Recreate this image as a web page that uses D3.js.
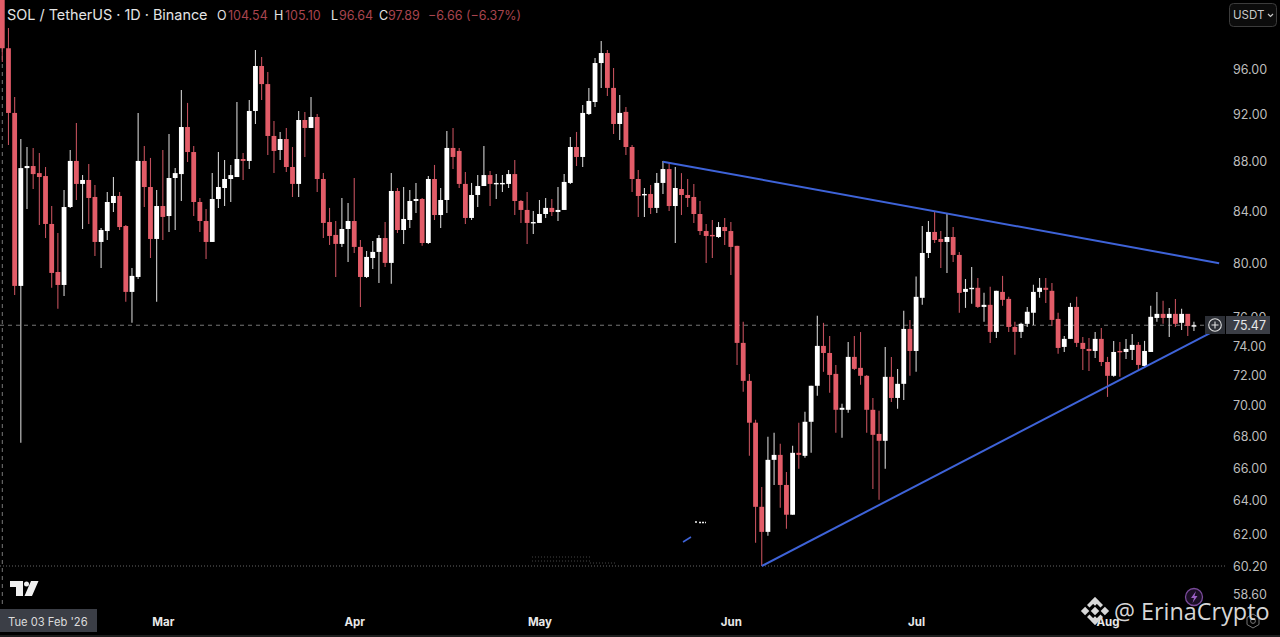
<!DOCTYPE html>
<html>
<head>
<meta charset="utf-8">
<script src="https://cdn.jsdelivr.net/npm/d3@7"></script>
<style>
  html, body { margin: 0; padding: 0; background: #000; overflow: hidden; }
  svg { display: block; }
  text { font-family: Inter, "Liberation Sans", sans-serif; }
  .axis .domain, .axis line { display: none; }
  .price-axis text { fill: #bdbdbd; font-size: 12.5px; }
  .time-axis text { fill: #e8e8e8; font-size: 11.5px; font-weight: 700; }
</style>
</head>
<body>
<svg id="chart"></svg>
<script>
var firstDay = "2026-02-03";

var opens = [104.54,97.89,92.12,78.31,87.47,87.64,87.06,86.82,83.0,79.34,
  78.38,84.33,88.06,86.18,86.5,85.13,81.61,82.45,84.65,85.21,
  82.84,77.87,78.97,88.06,85.93,81.84,84.41,83.62,86.66,86.98,
  90.91,88.8,84.73,83.23,81.61,84.97,85.85,86.58,86.74,88.22,
  88.06,92.29,96.27,94.65,90.15,88.97,89.89,87.56,86.18,91.51,
  90.83,91.77,86.58,83.15,82.15,81.46,82.61,83.23,81.23,78.97,
  80.39,80.85,81.91,80.02,85.61,82.53,83.31,84.81,84.97,81.53,
  86.58,83.7,84.89,89.14,88.89,86.18,83.47,85.29,86.01,86.9,
  86.18,86.18,86.18,86.98,84.81,84.1,83.08,83.08,83.78,84.26,
  83.94,84.1,86.26,89.22,88.39,92.03,93.07,96.54,97.45,94.31,
  91.17,92.21,89.22,86.58,85.29,85.37,84.26,86.26,87.39,84.41,
  85.77,85.29,85.13,83.78,82.45,82.15,81.99,82.76,82.45,81.31,
  74.23,71.63,68.87,63.64,62.16,66.51,66.82,64.96,63.17,66.95,
  66.76,68.93,71.3,74.02,73.53,72.1,69.71,69.71,73.26,72.51,
  71.97,69.71,68.15,67.71,71.9,70.49,71.43,75.21,73.67,77.44,
  80.77,82.38,81.84,81.61,81.99,80.62,77.87,78.09,78.17,76.78,
  76.93,75.0,77.87,77.36,75.35,75.0,75.57,76.36,77.87,78.17,
  77.95,75.92,73.95,74.51,76.78,74.23,73.81,73.67,74.51,72.91,
  71.97,73.67,73.6,73.74,74.09,72.64,73.6,75.99,76.28,75.99,
  76.28,75.64,76.28,75.42];

var highs = [105.10,99.77,93.51,89.89,89.22,89.14,88.72,87.56,84.41,82.3,
  85.69,88.97,91.25,86.9,87.81,86.1,82.69,85.53,86.74,85.53,
  82.92,79.64,92.12,89.31,88.31,85.69,88.97,90.32,87.47,94.13,
  92.99,89.31,85.05,84.18,87.06,88.8,88.14,87.73,93.07,88.72,
  93.25,97.73,97.08,95.73,91.42,90.49,90.83,89.22,92.29,92.21,
  93.51,92.03,87.06,84.26,83.23,85.05,84.65,86.66,81.76,80.92,
  81.69,82.15,83.15,87.06,85.85,85.93,85.69,86.26,85.05,86.82,
  87.73,85.85,90.57,90.83,89.14,87.14,86.26,86.9,89.31,87.23,
  86.98,86.9,87.31,88.14,84.89,85.53,84.02,84.89,85.05,84.97,
  85.93,86.98,90.06,90.49,92.81,94.31,97.0,98.56,97.73,96.09,
  93.69,92.64,89.39,87.31,85.85,86.1,87.06,88.06,87.89,87.56,
  87.06,86.58,86.18,84.81,83.0,83.31,83.15,83.47,83.15,81.31,
  75.71,72.1,69.06,64.84,67.96,68.22,67.52,65.76,67.39,68.87,
  69.58,71.3,76.14,75.64,74.72,72.71,70.1,74.3,74.72,74.99,
  72.03,70.49,69.65,73.95,73.26,72.44,76.5,75.85,79.0,82.84,
  83.23,83.94,82.45,83.86,82.76,80.85,78.82,79.71,78.9,77.8,
  78.24,77.95,79.05,77.51,75.71,75.64,76.78,78.39,78.9,78.9,
  78.53,76.36,74.72,77.07,77.51,74.65,74.58,74.99,75.28,73.26,
  74.37,74.3,74.51,74.86,74.3,74.37,76.86,77.87,77.22,76.71,
  77.36,76.64,76.28,75.71];

var lows = [96.64,89.39,77.65,67.58,84.18,85.77,82.92,81.91,78.17,76.64,
  77.58,84.26,84.89,82.61,83.0,80.54,79.64,81.76,83.94,82.53,
  77.15,75.64,78.82,84.33,80.39,77.15,81.76,82.38,82.53,84.81,
  87.97,83.62,82.38,80.31,81.61,84.26,84.41,84.73,86.74,86.5,
  87.39,91.17,93.25,88.55,87.06,88.14,87.14,85.13,85.13,88.39,
  90.83,85.53,81.91,81.38,78.97,81.23,80.09,80.77,76.78,78.9,
  79.56,78.53,79.71,78.46,82.3,81.46,82.69,83.86,81.31,81.46,
  83.31,82.69,83.86,87.39,85.85,83.0,83.31,84.33,86.01,84.41,
  84.97,85.53,85.85,83.7,83.08,81.46,82.22,83.08,83.47,83.62,
  83.23,84.1,86.18,87.64,87.56,91.94,92.64,94.31,93.6,90.32,
  89.81,88.55,85.53,83.55,83.55,83.78,83.86,85.37,84.02,81.53,
  83.7,84.33,83.08,82.15,80.02,80.39,81.91,81.38,79.12,72.71,
  70.9,66.76,61.53,60.2,61.93,64.96,63.58,62.34,63.17,65.95,
  66.64,66.95,70.63,72.24,70.83,68.22,67.9,69.52,72.37,71.37,
  68.22,64.72,64.06,65.95,70.23,69.78,70.36,71.97,72.24,76.93,
  80.39,81.53,79.64,79.27,80.09,76.36,76.71,77.0,76.71,75.71,
  74.23,74.58,76.86,75.0,73.4,74.58,75.35,75.49,77.44,77.07,
  75.42,73.47,73.6,74.51,73.95,72.37,72.3,73.19,72.64,70.56,
  71.9,71.9,73.12,73.05,72.37,72.51,73.6,75.71,75.57,74.65,
  75.35,75.14,74.72,75.07];

var closes = [97.89,92.12,78.31,87.47,87.64,86.98,86.74,83.0,79.27,78.38,
  84.33,88.06,86.18,86.5,85.05,81.61,82.53,84.73,85.21,82.76,
  77.87,79.05,88.06,85.93,81.84,84.41,83.55,86.66,87.06,90.91,
  88.8,84.73,83.23,81.61,84.97,85.93,86.58,86.9,88.22,88.06,
  92.29,96.27,94.65,90.15,88.89,89.89,87.56,86.18,91.51,90.83,
  91.77,86.58,83.08,82.07,81.46,82.61,83.23,81.23,78.97,80.47,
  80.85,81.91,80.02,85.61,82.53,83.39,84.81,84.97,81.53,86.58,
  83.7,84.89,89.14,88.39,86.18,83.47,85.29,86.01,86.9,86.18,
  86.26,86.26,86.98,84.81,84.1,83.08,83.15,83.78,84.26,83.94,
  84.1,86.34,89.22,88.39,92.12,93.16,96.54,97.45,94.31,91.17,
  92.12,89.22,86.58,85.21,85.37,84.26,86.26,87.39,84.41,85.85,
  85.29,85.05,83.78,82.45,82.07,82.07,82.76,82.45,81.23,74.23,
  71.63,68.87,63.64,62.16,66.51,66.82,64.96,63.17,66.95,66.82,
  68.93,71.3,74.02,73.53,72.03,69.71,69.84,73.26,72.44,71.97,
  69.71,68.09,67.71,71.9,70.49,71.43,75.21,73.67,77.51,80.77,
  82.38,81.76,81.61,81.99,80.62,77.8,78.09,78.17,76.78,76.93,
  75.0,77.95,77.29,75.35,75.0,75.57,76.43,77.87,78.17,78.02,
  75.85,73.88,74.51,76.78,74.23,73.81,73.67,74.51,72.91,71.97,
  73.6,73.6,73.81,74.09,72.71,73.67,76.07,76.28,75.99,76.28,
  75.57,76.28,75.42,75.47];

var priceTicks = [96, 92, 88, 84, 80, 76, 74, 72, 70, 68, 66, 64, 62, 60.2, 58.6];
var monthTicks = ["2026-03-01", "2026-04-01", "2026-05-01", "2026-06-01", "2026-07-01", "2026-08-01"];
var monthNames = ["Mar", "Apr", "May", "Jun", "Jul", "Aug"];

// trend lines: candle index and price at each end
var upperTrendDays = [107, 197.1];
var upperTrendPrices = [88, 80];
var lowerTrendDays = [123, 196];
var lowerTrendPrices = [60.2, 75];

var lastPrice = 75.47;
var lowPrice = 60.2;

var width = 1280, height = 637;
var upColor = "#ffffff", downColor = "#e25c68";

var svg = d3.select("#chart").attr("width", width).attr("height", height)
  .style("background", "#000");

// the screenshot is a little soft
svg.append("defs").append("filter").attr("id", "soft")
  .attr("x", "-2%").attr("y", "-2%").attr("width", "104%").attr("height", "104%")
  .append("feGaussianBlur").attr("stdDeviation", 0.35);

var parseDay = d3.utcParse("%Y-%m-%d");
var startDay = parseDay(firstDay);
function dayOf(i) { return d3.utcHour.offset(startDay, i * 24); }

var x = d3.scaleUtc().domain([startDay, parseDay("2026-08-01")]).range([2.3, 1107.5]);
var y = d3.scaleLog().domain([96, 60.2]).range([69, 566]);

var candles = opens.map(function(o, i) {
  return { day: dayOf(i), open: o, high: highs[i], low: lows[i], close: closes[i] };
});

// ---- guide lines under the candles
svg.append("line").attr("x1", 0).attr("x2", 1225)
  .attr("y1", y(lastPrice)).attr("y2", y(lastPrice))
  .attr("stroke", "#777").attr("stroke-width", 1).attr("stroke-dasharray", "4 4");
svg.append("line").attr("x1", 0).attr("x2", 1225)
  .attr("y1", y(lowPrice)).attr("y2", y(lowPrice))
  .attr("stroke", "#666").attr("stroke-width", 1).attr("stroke-dasharray", "1 2");
svg.append("line").attr("x1", x(startDay)).attr("x2", x(startDay))
  .attr("y1", 0).attr("y2", 608)
  .attr("stroke", "#777").attr("stroke-width", 1).attr("stroke-dasharray", "4 4");

// ---- candles
var candle = svg.append("g").attr("class", "candles").attr("filter", "url(#soft)")
  .selectAll("g").data(candles).enter().append("g");

candle.append("line")
  .attr("x1", function(d) { return x(d.day); })
  .attr("x2", function(d) { return x(d.day); })
  .attr("y1", function(d) { return y(d.high); })
  .attr("y2", function(d) { return y(d.low); })
  .attr("stroke", function(d) { return d.close >= d.open ? "#d0d0d0" : "#c04f5b"; })
  .attr("stroke-width", 1.1);

candle.append("rect")
  .attr("x", function(d) { return x(d.day) - 2.4; })
  .attr("width", 4.8)
  .attr("y", function(d) { return Math.min(y(d.open), y(d.close)); })
  .attr("height", function(d) { return Math.max(1.4, Math.abs(y(d.open) - y(d.close))); })
  .attr("fill", function(d) { return d.close >= d.open ? upColor : downColor; });

// ---- trend lines
function drawTrend(days, prices) {
  var line = d3.line()
    .x(function(d) { return x(dayOf(d)); })
    .y(function(d, i) { return y(prices[i]); });
  svg.append("path").datum(days).attr("d", line)
    .attr("fill", "none").attr("stroke", "#3e63d8").attr("stroke-width", 2);
}
drawTrend(upperTrendDays, upperTrendPrices);
drawTrend(lowerTrendDays, lowerTrendPrices);

// ---- axes
var priceAxis = d3.axisRight(y).tickValues(priceTicks).tickSize(0).tickPadding(0)
  .tickFormat(d3.format(".2f"));
svg.append("g").attr("class", "axis price-axis").attr("transform", "translate(1233,0)")
  .call(priceAxis);

var timeAxis = d3.axisBottom(x).tickValues(monthTicks.map(parseDay)).tickSize(0).tickPadding(0)
  .tickFormat(function(d, i) { return monthNames[i]; });
svg.append("g").attr("class", "axis time-axis").attr("transform", "translate(0,617.5)")
  .call(timeAxis);

// ---- last price tag and plus button
svg.append("rect").attr("x", 1205).attr("y", 316).attr("width", 20).attr("height", 18).attr("fill", "#2c2f36");
svg.append("circle").attr("cx", 1215).attr("cy", 325).attr("r", 6.3)
  .attr("fill", "none").attr("stroke", "#e0e0e0").attr("stroke-width", 1.1);
svg.append("path").attr("d", "M1211.5 325H1218.5M1215 321.5V328.5").attr("stroke", "#e0e0e0").attr("stroke-width", 1.1);
svg.append("rect").attr("x", 1226).attr("y", 316).attr("width", 44).attr("height", 18).attr("fill", "#3b3e46");
svg.append("text").attr("x", 1233).attr("y", y(lastPrice) + 4.5).attr("fill", "#e6e6e6")
  .style("font-size", "12.5px").text(d3.format(".2f")(lastPrice));

// ---- header
var white = "#e4e4e4", red = "#a8444e";
var header = [
  ["SOL / TetherUS \u00b7 1D \u00b7 Binance", 7, white, 14.4],
  ["O", 217, white, 12.5], ["104.54", 228, red, 12.5],
  ["H", 274, white, 12.5], ["105.10", 285, red, 12.5],
  ["L", 331, white, 12.5], ["96.64", 339, red, 12.5],
  ["C", 379, white, 12.5], ["97.89", 388, red, 12.5],
  ["\u22126.66", 428, red, 12.5], ["(\u22126.37%)", 466, red, 12.5]
];
svg.append("g").selectAll("text").data(header).enter().append("text")
  .attr("x", function(d) { return d[1]; })
  .attr("y", 20)
  .attr("fill", function(d) { return d[2]; })
  .style("font-size", function(d) { return d[3] + "px"; })
  .text(function(d) { return d[0]; });

// ---- currency button
svg.append("rect").attr("x", 1229.5).attr("y", 3.5).attr("width", 47).attr("height", 23).attr("rx", 4)
  .attr("fill", "#0c0c0c").attr("stroke", "#3c3c3c");
svg.append("text").attr("x", 1233).attr("y", 19).attr("fill", "#c8c8c8").style("font-size", "11.5px").text("USDT");
svg.append("path").attr("d", "M1268 14l2.5 2.5l2.5-2.5").attr("fill", "none").attr("stroke", "#c8c8c8").attr("stroke-width", 1.2);

// ---- date tag
svg.append("rect").attr("x", 0).attr("y", 609).attr("width", 97).attr("height", 23).attr("fill", "#3b3e46");
svg.append("text").attr("x", 8).attr("y", 625.5).attr("fill", "#dcdcdc").style("font-size", "11.2px").text("Tue 03 Feb '26");

// bottom edge
svg.append("rect").attr("x", 0).attr("y", 635).attr("width", width).attr("height", 2).attr("fill", "#1e1e1e");

// ---- logo bottom left
svg.append("path").attr("fill", "#f0f0f0")
  .attr("d", "M10 581H23V596H16V587H10Z M31 581H38.5L32 596H24.5Z");
svg.append("circle").attr("cx", 26.5).attr("cy", 584).attr("r", 2.5).attr("fill", "#f0f0f0");

// ---- small specks around the dotted low line
svg.append("path").attr("d", "M683 542L691 537").attr("stroke", "#3e63d8").attr("stroke-width", 1.5);
svg.append("path").attr("d", "M695 522H697M699 522.5H706").attr("stroke", "#eee").attr("stroke-width", 1.5).attr("stroke-dasharray", "2 1");
svg.append("path").attr("d", "M532 557H590M532 561H590M590 563H615").attr("stroke", "#444").attr("stroke-dasharray", "1 2");

// ---- icons bottom right
svg.append("circle").attr("cx", 1194).attr("cy", 597).attr("r", 8.5)
  .attr("fill", "#1a0e24").attr("stroke", "#7a4a9a").attr("stroke-width", 1.3);
svg.append("path").attr("d", "M1196 591L1191 598H1194L1192.5 603L1197.5 596H1194.5Z").attr("fill", "#9a5fc4");
svg.append("path").attr("fill", "none").attr("stroke", "#777").attr("stroke-width", 1)
  .attr("d", "M1253 614L1259 617.5V624.5L1253 628L1247 624.5V617.5Z");
svg.append("circle").attr("cx", 1253).attr("cy", 621).attr("r", 2.4).attr("fill", "none").attr("stroke", "#777");

// ---- watermark
var bn = svg.append("g").attr("fill", "#d8d8d8").attr("transform", "translate(1095,611)");
[[0, -9], [-9, 0], [9, 0], [0, 9]].forEach(function(p, i) {
  bn.append("rect").attr("x", -3).attr("y", -3).attr("width", 6).attr("height", 6)
    .attr("transform", "translate(" + p[0] * (i == 0 || i == 3 ? 1.05 : 1.1) + "," + p[1] * 1.05 + ") rotate(45)");
});
bn.append("path").attr("d", "M0 -14L8 -6L5.5 -3.5L0 -9L-5.5 -3.5L-8 -6Z M0 14L8 6L5.5 3.5L0 9L-5.5 3.5L-8 6Z");
bn.append("rect").attr("x", -3).attr("y", -3).attr("width", 6).attr("height", 6).attr("transform", "rotate(45)");

svg.append("text").attr("x", 1114).attr("y", 620).attr("fill", "#d6d6d6")
  .style("font-family", "'Open Sans', sans-serif").style("font-size", "23.4px").text("@ ErinaCrypto");
</script>
</body>
</html>
